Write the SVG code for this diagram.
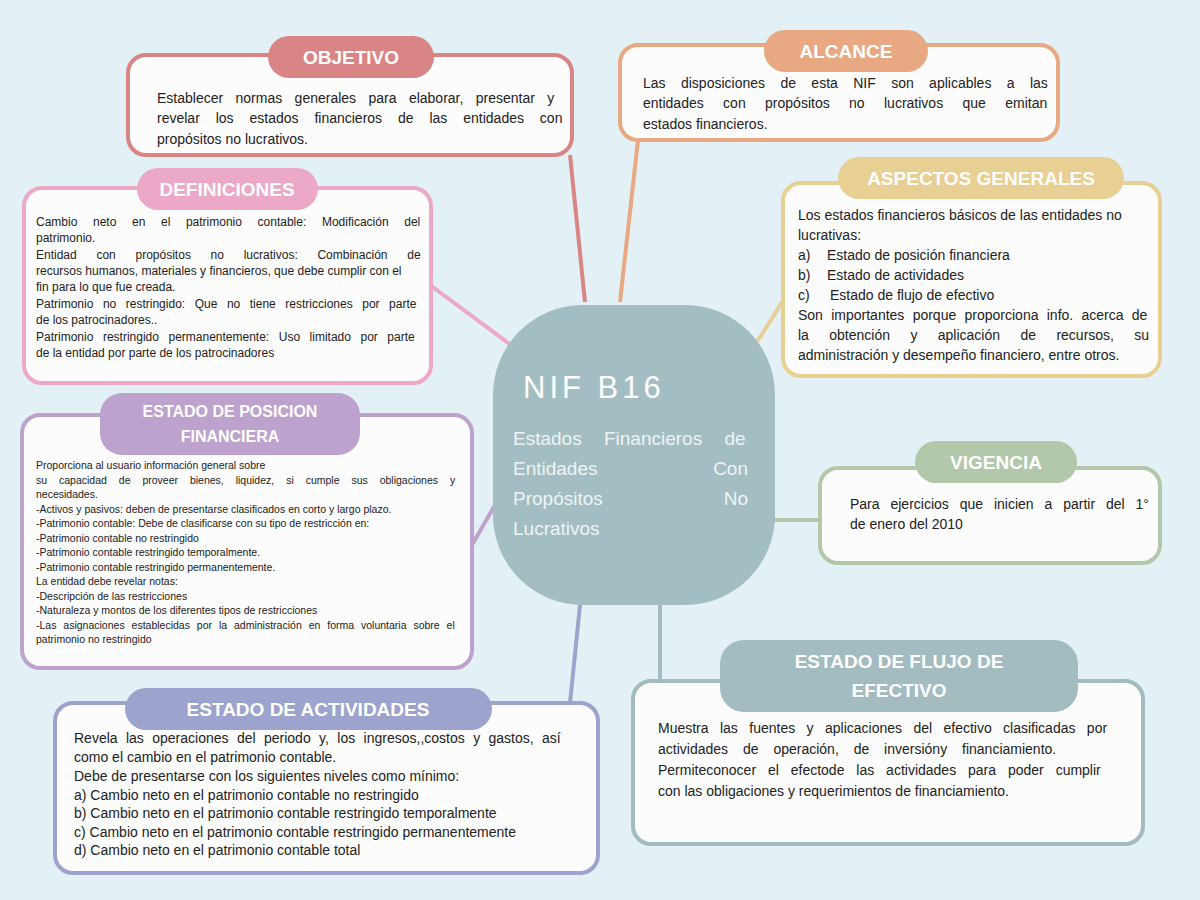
<svg xmlns="http://www.w3.org/2000/svg" width="1200" height="900" viewBox="0 0 1200 900">
<style>
.box{fill:#fcfcfc;stroke-width:4}
.t{font-family:"Liberation Sans",Arial,sans-serif;font-weight:bold;fill:#fff;text-anchor:middle}
.b{font-family:"Liberation Sans",Arial,sans-serif;font-size:14px;fill:#222}
.s{font-family:"Liberation Sans",Arial,sans-serif;font-size:12px;fill:#222}
.xs{font-family:"Liberation Sans",Arial,sans-serif;font-size:10.5px;fill:#222}
.c{stroke-width:4;fill:none}
</style>
<rect width="1200" height="900" fill="#e3f1f6"/>
<g id="connectors">
<line class="c" stroke="#d98585" x1="570" y1="155" x2="585" y2="302"/>
<line class="c" stroke="#e8a882" x1="638" y1="140" x2="620" y2="302"/>
<line class="c" stroke="#e8cf94" x1="790" y1="290" x2="755" y2="345"/>
<line class="c" stroke="#b3c7aa" x1="772" y1="520" x2="820" y2="520"/>
<line class="c" stroke="#a3bcc0" x1="660" y1="605" x2="660" y2="681"/>
<line class="c" stroke="#9da3cc" x1="580" y1="605" x2="570" y2="703"/>
<line class="c" stroke="#bca2cc" x1="495" y1="505" x2="472" y2="545"/>
<line class="c" stroke="#eba8c7" x1="430" y1="285" x2="515" y2="348"/>
</g>
<g id="center">
<rect x="493" y="305" width="282" height="300" rx="90" fill="#a2bec2"/>
<text x="523" y="398" font-family="Liberation Sans,Arial,sans-serif" font-size="31" fill="#fff" letter-spacing="4">NIF B16</text>
<g font-family="Liberation Sans,Arial,sans-serif" font-size="19" fill="#eef4f5">
<text x="513" y="445" word-spacing="17">Estados Financieros de</text>
<text x="513" y="475">Entidades</text><text x="748" y="475" text-anchor="end">Con</text>
<text x="513" y="505">Propósitos</text><text x="748" y="505" text-anchor="end">No</text>
<text x="513" y="535">Lucrativos</text>
</g>
</g>
<g id="objetivo">
<rect class="box" stroke="#d98585" x="128" y="55" width="444" height="100" rx="18"/>
<rect x="268" y="36" width="166" height="42" rx="21" fill="#d98585"/>
<text class="t" x="351" y="64" font-size="19">OBJETIVO</text>
<text class="b" x="157" y="103" word-spacing="8.5">Establecer normas generales para elaborar, presentar y</text>
<text class="b" x="157" y="123" word-spacing="12">revelar los estados financieros de las entidades con</text>
<text class="b" x="157" y="144">propósitos no lucrativos.</text>
</g>
<g id="alcance">
<rect class="box" stroke="#e8a882" x="620" y="45" width="438" height="95" rx="18"/>
<rect x="764" y="30" width="164" height="42" rx="21" fill="#e8a882"/>
<text class="t" x="846" y="58" font-size="19">ALCANCE</text>
<text class="b" x="643" y="88" word-spacing="11.5">Las disposiciones de esta NIF son aplicables a las</text>
<text class="b" x="643" y="108" word-spacing="15.5">entidades con propósitos no lucrativos que emitan</text>
<text class="b" x="643" y="129">estados financieros.</text>
</g>
<g id="aspectos">
<rect class="box" stroke="#e8cf94" x="783" y="183" width="377" height="193" rx="18"/>
<rect x="838" y="157" width="286" height="42" rx="21" fill="#e8cf94"/>
<text class="t" x="981" y="185" font-size="19">ASPECTOS GENERALES</text>
<text class="b" x="798" y="220">Los estados financieros básicos de las entidades no</text>
<text class="b" x="798" y="240">lucrativas:</text>
<text class="b" y="260"><tspan x="798">a)</tspan><tspan x="827">Estado de posición financiera</tspan></text>
<text class="b" y="280"><tspan x="798">b)</tspan><tspan x="827">Estado de actividades</tspan></text>
<text class="b" y="300"><tspan x="798">c)</tspan><tspan x="830">Estado de flujo de efectivo</tspan></text>
<text class="b" x="798" y="320" word-spacing="4.4">Son importantes porque proporciona info. acerca de</text>
<text class="b" x="798" y="340" word-spacing="16.5">la obtención y aplicación de recursos, su</text>
<text class="b" x="798" y="360">administración y desempeño financiero, entre otros.</text>
</g>
<g id="vigencia">
<rect class="box" stroke="#b3c7aa" x="820" y="468" width="340" height="95" rx="18"/>
<rect x="915" y="441" width="162" height="42" rx="21" fill="#b3c7aa"/>
<text class="t" x="996" y="469" font-size="19">VIGENCIA</text>
<text class="b" x="850" y="509" word-spacing="7">Para ejercicios que inicien a partir del 1°</text>
<text class="b" x="850" y="529">de enero del 2010</text>
</g>
<g id="flujo">
<rect class="box" stroke="#a3bcc0" x="633" y="681" width="510" height="163" rx="18"/>
<rect x="720" y="640" width="358" height="72" rx="24" fill="#a3bcc0"/>
<text class="t" x="899" y="668" font-size="19">ESTADO DE FLUJO DE</text>
<text class="t" x="899" y="697" font-size="19">EFECTIVO</text>
<text class="b" x="658" y="733" word-spacing="7.5">Muestra las fuentes y aplicaciones del efectivo clasificadas por</text>
<text class="b" x="658" y="754" word-spacing="11">actividades de operación, de inversióny financiamiento.</text>
<text class="b" x="658" y="775" word-spacing="8">Permiteconocer el efectode las actividades para poder cumplir</text>
<text class="b" x="658" y="796">con las obligaciones y requerimientos de financiamiento.</text>
</g>
<g id="actividades">
<rect class="box" stroke="#9da3cc" x="55" y="703" width="543" height="170" rx="18"/>
<rect x="125" y="688" width="367" height="42" rx="21" fill="#9da3cc"/>
<text class="t" x="308" y="716" font-size="19">ESTADO DE ACTIVIDADES</text>
<text class="b" x="74" y="743" word-spacing="4.5">Revela las operaciones del periodo y, los ingresos,,costos y gastos, así</text>
<text class="b" x="74" y="762">como el cambio en el patrimonio contable.</text>
<text class="b" x="74" y="781">Debe de presentarse con los siguientes niveles como mínimo:</text>
<text class="b" x="74" y="800">a) Cambio neto en el patrimonio contable no restringido</text>
<text class="b" x="74" y="818">b) Cambio neto en el patrimonio contable restringido temporalmente</text>
<text class="b" x="74" y="837">c) Cambio neto en el patrimonio contable restringido permanentemente</text>
<text class="b" x="74" y="855">d) Cambio neto en el patrimonio contable total</text>
</g>
<g id="posicion">
<rect class="box" stroke="#bca2cc" x="22" y="415" width="450" height="253" rx="18"/>
<rect x="100" y="393" width="260" height="62" rx="22" fill="#bca2cc"/>
<text class="t" x="230" y="417" font-size="16">ESTADO DE POSICION</text>
<text class="t" x="230" y="442" font-size="16">FINANCIERA</text>
<text class="xs" x="36" y="469">Proporciona al usuario información general sobre</text>
<text class="xs" x="36" y="484" word-spacing="9">su capacidad de proveer bienes, liquidez, si cumple sus obligaciones y</text>
<text class="xs" x="36" y="498">necesidades.</text>
<text class="xs" x="36" y="513">-Activos y pasivos: deben de presentarse clasificados en corto y largo plazo.</text>
<text class="xs" x="36" y="527">-Patrimonio contable: Debe de clasificarse con su tipo de restricción en:</text>
<text class="xs" x="36" y="542">-Patrimonio contable no restringido</text>
<text class="xs" x="36" y="556">-Patrimonio contable restringido temporalmente.</text>
<text class="xs" x="36" y="571">-Patrimonio contable restringido permanentemente.</text>
<text class="xs" x="36" y="585">La entidad debe revelar notas:</text>
<text class="xs" x="36" y="600">-Descripción de las restricciones</text>
<text class="xs" x="36" y="614">-Naturaleza y montos de los diferentes tipos de restricciones</text>
<text class="xs" x="36" y="629" word-spacing="4">-Las asignaciones establecidas por la administración en forma voluntaria sobre el</text>
<text class="xs" x="36" y="643">patrimonio no restringido</text>
</g>
<g id="definiciones">
<rect class="box" stroke="#eba8c7" x="24" y="188" width="407" height="195" rx="18"/>
<rect x="137" y="168" width="181" height="42" rx="21" fill="#eba8c7"/>
<text class="t" x="227" y="196" font-size="19">DEFINICIONES</text>
<text class="s" x="36" y="226" word-spacing="12.3">Cambio neto en el patrimonio contable: Modificación del</text>
<text class="s" x="36" y="242">patrimonio.</text>
<text class="s" x="36" y="259" word-spacing="16.4">Entidad con propósitos no lucrativos: Combinación de</text>
<text class="s" x="36" y="275">recursos humanos, materiales y financieros, que debe cumplir con el</text>
<text class="s" x="36" y="291">fin para lo que fue creada.</text>
<text class="s" x="36" y="308" word-spacing="6.2">Patrimonio no restringido: Que no tiene restricciones por parte</text>
<text class="s" x="36" y="324">de los patrocinadores..</text>
<text class="s" x="36" y="341" word-spacing="6.2">Patrimonio restringido permanentemente: Uso limitado por parte</text>
<text class="s" x="36" y="357">de la entidad por parte de los patrocinadores</text>
</g>
</svg>
